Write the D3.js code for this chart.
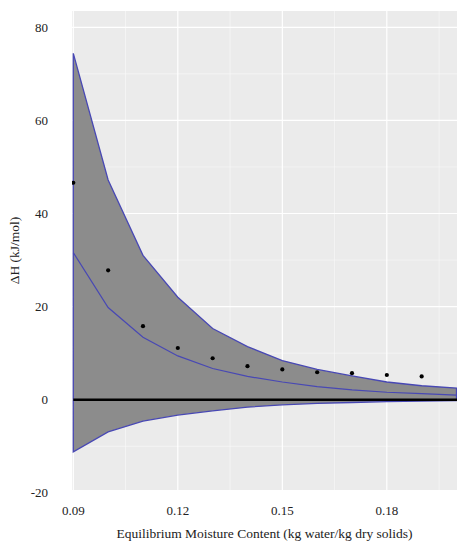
<!DOCTYPE html>
<html>
<head>
<meta charset="utf-8">
<script src="https://cdn.jsdelivr.net/npm/d3@7"></script>
<style>
  body { margin: 0; background: #fff; }
  text { font-family: "Liberation Serif", serif; fill: #222; }
</style>
</head>
<body>
<svg></svg>
<script>
// moisture content grid and curves
const moisture = [0.09, 0.10, 0.11, 0.12, 0.13, 0.14, 0.15, 0.16, 0.17, 0.18, 0.19, 0.20];
const upperBand = [74.4, 47.2, 31.0, 22.0, 15.3, 11.4, 8.4, 6.5, 5.1, 3.8, 3.0, 2.5];
const fitLine = [31.6, 19.8, 13.4, 9.4, 6.7, 5.0, 3.8, 2.8, 2.1, 1.6, 1.3, 1.0];
const lowerBand = [-11.2, -6.9, -4.6, -3.3, -2.4, -1.6, -1.1, -0.8, -0.6, -0.4, -0.3, -0.2];

// observed points
const obsX = [0.09, 0.10, 0.11, 0.12, 0.13, 0.14, 0.15, 0.16, 0.17, 0.18, 0.19];
const obsY = [46.6, 27.8, 15.8, 11.1, 8.9, 7.2, 6.5, 5.9, 5.7, 5.3, 5.0];

const xTicks = [0.09, 0.12, 0.15, 0.18];
const xMinor = [0.105, 0.135, 0.165, 0.195];
const yTicks = [-20, 0, 20, 40, 60, 80];
const yMinor = [-10, 10, 30, 50, 70];

const width = 467, height = 550;
const panel = {left: 72, right: 457, top: 11, bottom: 490};

const svg = d3.select('svg').attr('width', width).attr('height', height);

const x = d3.scaleLinear().domain([0.09, 0.2]).range([73.3, 456.5]);
const y = d3.scaleLinear().domain([-19.4, 83.5]).range([panel.bottom, panel.top]);

svg.append('rect')
    .attr('x', panel.left).attr('y', panel.top)
    .attr('width', panel.right - panel.left)
    .attr('height', panel.bottom - panel.top)
    .attr('fill', '#ebebeb');

const clip = svg.append('clipPath').attr('id', 'clip')
    .append('rect')
    .attr('x', panel.left).attr('y', panel.top)
    .attr('width', panel.right - panel.left)
    .attr('height', panel.bottom - panel.top);

const grid = svg.append('g').attr('clip-path', 'url(#clip)');

// minor grid first, thinner
grid.selectAll('.xminor').data(xMinor).enter().append('line')
    .attr('x1', d => x(d)).attr('x2', d => x(d))
    .attr('y1', panel.top).attr('y2', panel.bottom)
    .attr('stroke', '#fafafa').attr('stroke-width', 0.6);
grid.selectAll('.yminor').data(yMinor).enter().append('line')
    .attr('y1', d => y(d)).attr('y2', d => y(d))
    .attr('x1', panel.left).attr('x2', panel.right)
    .attr('stroke', '#fafafa').attr('stroke-width', 0.6);
grid.selectAll('.xmajor').data(xTicks).enter().append('line')
    .attr('x1', d => x(d)).attr('x2', d => x(d))
    .attr('y1', panel.top).attr('y2', panel.bottom)
    .attr('stroke', '#fff').attr('stroke-width', 1.2);
grid.selectAll('.ymajor').data(yTicks).enter().append('line')
    .attr('y1', d => y(d)).attr('y2', d => y(d))
    .attr('x1', panel.left).attr('x2', panel.right)
    .attr('stroke', '#fff').attr('stroke-width', 1.2);

const rows = moisture.map((m, i) => ({m: m, hi: upperBand[i], fit: fitLine[i], lo: lowerBand[i]}));

const band = d3.area()
    .x(d => x(d.m))
    .y0(d => y(d.lo))
    .y1(d => y(d.hi));

const plot = svg.append('g').attr('clip-path', 'url(#clip)');

plot.append('path')
    .datum(rows)
    .attr('d', band)
    .attr('fill', '#8c8c8c')
    .attr('stroke', '#4848b4')
    .attr('stroke-width', 1.3);

plot.append('path')
    .datum(rows)
    .attr('d', d3.line().x(d => x(d.m)).y(d => y(d.fit)))
    .attr('fill', 'none')
    .attr('stroke', '#4848b4')
    .attr('stroke-width', 1.2);

plot.append('line')
    .attr('x1', x(0.09)).attr('x2', panel.right)
    .attr('y1', y(0)).attr('y2', y(0))
    .attr('stroke', '#000').attr('stroke-width', 2.6);

plot.selectAll('circle').data(obsX).enter().append('circle')
    .attr('cx', d => x(d))
    .attr('cy', (d, i) => y(obsY[i]))
    .attr('r', 2.1)
    .attr('fill', '#000');

// axis labels
svg.append('g').selectAll('text').data(yTicks).enter().append('text')
    .attr('x', 48)
    .attr('y', d => y(d))
    .attr('dy', '0.35em')
    .attr('text-anchor', 'end')
    .style('font-size', '13px')
    .text(d => d);

svg.append('g').selectAll('text').data(xTicks).enter().append('text')
    .attr('x', d => x(d))
    .attr('y', 510)
    .attr('dy', '0.35em')
    .attr('text-anchor', 'middle')
    .style('font-size', '13px')
    .text(d3.format('.2f'));

svg.append('text')
    .attr('x', (panel.left + panel.right) / 2)
    .attr('y', 533)
    .attr('dy', '0.35em')
    .attr('text-anchor', 'middle')
    .style('font-size', '13.5px')
    .text('Equilibrium Moisture Content (kg water/kg dry solids)');

svg.append('text')
    .attr('transform', 'translate(14,' + ((panel.top + panel.bottom) / 2) + ') rotate(-90)')
    .attr('dy', '0.35em')
    .attr('text-anchor', 'middle')
    .style('font-size', '13.5px')
    .text('ΔH (kJ/mol)');
</script>
</body>
</html>
